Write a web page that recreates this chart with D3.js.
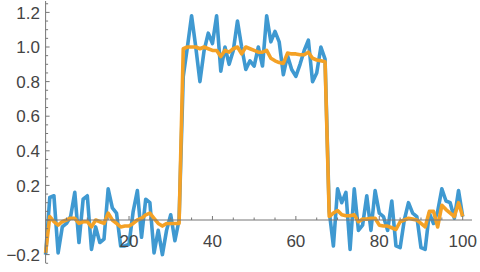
<!DOCTYPE html>
<html>
<head>
<meta charset="utf-8">
<script src="https://cdn.jsdelivr.net/npm/d3@7"></script>
<style>
  body { margin: 0; background: #fff; }
  svg { display: block; }
</style>
</head>
<body>
<svg id="chart" width="480" height="272"></svg>
<script>

// noisy square pulse, sampled at x = 0..100
var raw = [
  -0.20, 0.13, 0.14, -0.19, -0.04, -0.02, 0.02, 0.16, -0.13, 0.12,
  0.14, -0.17, -0.04, -0.13, -0.11, 0.18, 0.07, 0.04, -0.15, -0.15,
  -0.14, 0.05, 0.17, -0.10, 0.12, 0.10, -0.19, -0.06, -0.20, -0.06,
  0.03, -0.12, 0.00, 0.83, 1.00, 1.18, 1.00, 0.80, 0.98, 1.08,
  1.02, 1.18, 0.86, 1.00, 0.90, 0.98, 1.15, 1.00, 0.87, 0.92,
  0.89, 1.00, 0.89, 1.18, 1.03, 1.09, 1.03, 0.84, 0.95, 0.87,
  0.83, 0.90, 0.98, 1.04, 0.80, 0.85, 1.00, 0.93, 0.05, -0.15,
  0.18, 0.10, 0.16, -0.17, 0.18, -0.06, -0.03, 0.14, -0.06, 0.17,
  0.04, 0.02, -0.06, 0.11, -0.15, -0.16, 0.00, 0.10, 0.04, 0.02,
  -0.16, -0.17, 0.04, -0.02, 0.05, 0.18, 0.11, 0.10, 0.01, 0.17,
  0.02
];

// filtered version
var smooth = [
  -0.19, 0.02, -0.01, -0.03, -0.01, 0.00, 0.01, 0.01, -0.02, -0.01,
  -0.01, -0.04, 0.00, -0.01, -0.02, 0.04, 0.00, -0.02, -0.04, -0.035,
  -0.035, -0.02, 0.00, 0.01, 0.03, 0.04, 0.01, -0.02, -0.035, -0.02,
  -0.02, -0.02, -0.02, 0.99, 1.00, 1.00, 1.00, 0.99, 1.00, 0.99,
  0.98, 0.98, 0.945, 0.98, 0.97, 0.99, 1.00, 0.96, 1.00, 0.99,
  0.98, 0.97, 0.97, 0.98, 0.935, 0.92, 0.91, 0.905, 0.965, 0.96,
  0.96, 0.955, 0.955, 0.97, 0.935, 0.925, 0.92, 0.915, 0.02, 0.04,
  0.055, 0.03, 0.025, 0.025, 0.03, -0.01, 0.005, 0.005, 0.01, 0.01,
  -0.03, -0.035, -0.035, -0.045, -0.055, -0.01, 0.00, 0.01, 0.005, 0.00,
  -0.02, -0.04, 0.05, 0.05, -0.04, 0.085, 0.06, 0.04, 0.02, 0.10,
  0.02
];

var xTicks = [20, 40, 60, 80, 100];
var yTicks = [-0.2, 0.2, 0.4, 0.6, 0.8, 1.0, 1.2];

var svg = d3.select("#chart");

var x = d3.scaleLinear().domain([0, 100]).range([45.6, 462.7]);
var y = d3.scaleLinear().domain([-0.2, 1.2]).range([254.6, 12.4]);

var axisColor = "#777";
var labelColor = "#444";

// series
var line = d3.line()
    .x(function(d, i) { return x(i); })
    .y(function(d) { return y(d); });

function drawSeries(data, color) {
    svg.append("path")
        .datum(data)
        .attr("d", line)
        .attr("fill", "none")
        .attr("stroke", color)
        .attr("stroke-width", 3.6)
        .attr("stroke-linejoin", "round");
}

drawSeries(raw, "#3f99d1");
drawSeries(smooth, "#f4a125");

// axes lines
svg.append("line")
    .attr("x1", x(0)).attr("x2", 472)
    .attr("y1", y(0)).attr("y2", y(0))
    .attr("stroke", axisColor).attr("stroke-width", 1);

svg.append("line")
    .attr("x1", x(0)).attr("x2", x(0))
    .attr("y1", 1).attr("y2", 263)
    .attr("stroke", axisColor).attr("stroke-width", 1);

// x ticks (pointing up)
var xMinor = d3.range(5, 101, 5);
svg.selectAll(".xt")
    .data(xMinor)
    .join("line")
    .attr("class", "xt")
    .attr("x1", function(d) { return x(d); })
    .attr("x2", function(d) { return x(d); })
    .attr("y1", y(0))
    .attr("y2", function(d) { return y(0) - (d % 20 == 0 ? 4 : 2.5); })
    .attr("stroke", axisColor);

svg.selectAll(".xl")
    .data(xTicks)
    .join("text")
    .attr("class", "xl")
    .attr("x", function(d) { return x(d); })
    .attr("y", 247)
    .attr("text-anchor", "middle")
    .attr("font-family", "Liberation Sans, Arial, sans-serif")
    .attr("font-size", 17)
    .attr("fill", labelColor)
    .text(function(d) { return d; });

// y ticks (pointing right)
var yMinor = d3.range(-0.25, 1.2501, 0.05);
svg.selectAll(".yt")
    .data(yMinor)
    .join("line")
    .attr("class", "yt")
    .attr("x1", x(0))
    .attr("x2", function(d) {
        var major = Math.abs(Math.round(d * 5) - d * 5) < 1e-6;
        return x(0) + (major ? 4 : 2.5);
    })
    .attr("y1", function(d) { return y(d); })
    .attr("y2", function(d) { return y(d); })
    .attr("stroke", axisColor);

svg.selectAll(".yl")
    .data(yTicks)
    .join("text")
    .attr("class", "yl")
    .attr("x", 40)
    .attr("y", function(d) { return y(d); })
    .attr("dy", "0.36em")
    .attr("text-anchor", "end")
    .attr("font-family", "Liberation Sans, Arial, sans-serif")
    .attr("font-size", 17)
    .attr("fill", labelColor)
    .text(function(d) { return d3.format(".1f")(d).replace("-", "\u2212"); });

</script>
</body>
</html>
